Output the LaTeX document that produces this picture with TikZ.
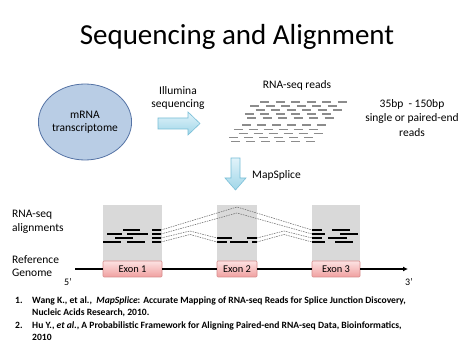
\documentclass[tikz,border=0pt]{standalone}
\usepackage{fontspec}
\setmainfont{Carlito}
\usetikzlibrary{shapes.geometric,arrows.meta}
\definecolor{ellfill}{RGB}{185,205,229}
\definecolor{elldraw}{RGB}{85,115,165}
\definecolor{arrtop}{RGB}{225,243,250}
\definecolor{arrbot}{RGB}{160,214,232}
\definecolor{arrdraw}{RGB}{120,190,215}
\definecolor{exontop}{RGB}{252,226,226}
\definecolor{exonbot}{RGB}{240,160,160}
\definecolor{exondraw}{RGB}{215,140,140}
\definecolor{greybox}{RGB}{217,217,217}
\definecolor{readgrey}{RGB}{140,140,140}
\definecolor{dashgrey}{RGB}{110,110,110}
\begin{document}
\begin{tikzpicture}[x=1pt,y=-1pt,
  txt/.style={inner sep=0pt, font=\fontsize{11.5}{12.5}\selectfont, align=center},
  lefttxt/.style={inner sep=0pt, font=\fontsize{11.5}{13.5}\selectfont, align=left, anchor=west},
  exon/.style={draw=exondraw, line width=0.6pt, top color=exontop, bottom color=exonbot,
     rounded corners=1pt, inner sep=0pt, minimum height=16pt, font=\fontsize{10.4}{12}\selectfont},
  fatarrow/.style={draw=arrdraw, line width=0.6pt, top color=arrtop, bottom color=arrbot},
  rawread/.style={readgrey, line width=1.3pt},
  alnread/.style={black, line width=1.8pt},
  junction/.style={dashgrey, line width=0.55pt, dash pattern=on 1.5pt off 1pt},
  genome/.style={black, line width=2.4pt},
  refs/.style={inner sep=0pt, anchor=base west, font=\fontsize{9.6}{11}\selectfont\bfseries}]
\useasboundingbox (0,0) rectangle (474,355);
\fill[white] (0,0) rectangle (474,355);

% title
\node[inner sep=0pt, font=\fontsize{29}{34}\selectfont] (title) at (237,37) {Sequencing and Alignment};

% mRNA ellipse
\node[ellipse, draw=elldraw, fill=ellfill, line width=0.8pt, minimum width=84pt, minimum height=76pt,
  inner sep=0pt, font=\fontsize{11.5}{12.5}\selectfont, align=center] (mrna) at (85,122) {mRNA\\transcriptome};

% Illumina arrow
\node[txt] (illum) at (178,98) {Illumina\\sequencing};
\path[fatarrow] (158,118) -- (188,118) -- (188,112) -- (200,123.5) -- (188,135) -- (188,129) -- (158,129) -- cycle;

% RNA-seq reads
\node[txt] (readslbl) at (297,85) {RNA-seq reads};
\foreach \i/\o in {0/0,1/-6,2/3,3/-4,4/2}{
  \pgfmathsetmacro{\y}{102+4*\i}
  \pgfmathsetmacro{\x}{260-3.7*\i+\o}
  \foreach \k in {0,...,5}{
    \draw[rawread] ({\x+15.5*\k},\y) -- ({\x+15.5*\k+9},\y);
  }
}
\foreach \i/\o in {0/0,1/-5,2/3,3/-3,4/2}{
  \pgfmathsetmacro{\y}{125+4.2*\i}
  \pgfmathsetmacro{\x}{242-3.2*\i+\o}
  \foreach \k in {0,...,5}{
    \draw[rawread] ({\x+15*\k},\y) -- ({\x+15*\k+9},\y);
  }
}
\node[txt, font=\fontsize{11.5}{14.5}\selectfont] (readinfo) at (412,118) {35bp \ - 150bp\\single or paired-end\\reads};

% MapSplice arrow
\path[fatarrow] (231,158) -- (240,158) -- (240,178) -- (246,178) -- (235.5,190) -- (225,178) -- (231,178) -- cycle;
\node[txt, anchor=west] (mapsplice) at (252,175) {MapSplice};

% left labels
\node[lefttxt] (alnlbl) at (12,222) {RNA-seq\\alignments};
\node[lefttxt] (reflbl) at (12,266) {Reference\\Genome};

% grey columns
\fill[greybox] (103,205) rectangle (162,262);
\fill[greybox] (217,205) rectangle (257,262);
\fill[greybox] (312,205) rectangle (360,262);

% genome
\coordinate (g5) at (75,269);
\coordinate (g3) at (408,269);
\node[exon, minimum width=59pt] (e1) at (132.5,269) {Exon 1};
\node[exon, minimum width=40pt] (e2) at (237,269) {Exon 2};
\node[exon, minimum width=48pt] (e3) at (336,269) {Exon 3};
\draw[genome] (g5) -- (e1.west);
\draw[genome] (e1.east) -- (e2.west);
\draw[genome] (e2.east) -- (e3.west);
\draw[genome, -{Latex[length=5pt,width=5pt]}] (e3.east) -- (g3);
\node[txt, font=\fontsize{10}{12}\selectfont] (five) at (68,282) {5’};
\node[txt, font=\fontsize{10}{12}\selectfont] (three) at (409,282) {3’};

% alignments exon 1
\draw[alnread] (123,230) -- (140,230);
\draw[alnread] (107,234) -- (122,234);
\draw[alnread] (127,234) -- (148,234);
\draw[alnread] (115,238) -- (133,238);
\draw[alnread] (103,242) -- (121,242);
\draw[alnread] (127,242) -- (145,242);
\foreach \y in {230,234,238,242}{\draw[alnread] (152,\y) -- (161,\y);}
% alignments exon 2
\draw[alnread] (217,238) -- (232,238);
\draw[alnread] (247,238) -- (257,238);
\draw[alnread] (217,242) -- (227,242);
\draw[alnread] (230,242) -- (248,242);
\draw[alnread] (252,242) -- (257,242);
% alignments exon 3
\draw[alnread] (312,230) -- (322,230);
\draw[alnread] (332,230) -- (350,230);
\draw[alnread] (312,234) -- (325,234);
\draw[alnread] (340,234) -- (358,234);
\draw[alnread] (312,238) -- (322,238);
\draw[alnread] (328,238) -- (347,238);
\draw[alnread] (312,242) -- (325,242);
\draw[alnread] (335,242) -- (353,242);

% junctions
\draw[junction] (161,230) -- (237,207) -- (312,230);
\draw[junction] (161,234) -- (237,213) -- (312,234);
\draw[junction] (161,238) -- (190,231) -- (217,238);
\draw[junction] (161,242) -- (190,234.5) -- (217,242);
\draw[junction] (257,238) -- (284,231) -- (312,238);
\draw[junction] (257,242) -- (284,234.5) -- (312,242);

% references
\node[refs] (n1) at (15,304) {1.};
\node[refs] (r1) at (32,304) {Wang K., et al., \ \textit{MapSplice}: Accurate Mapping of RNA-seq Reads for Splice Junction Discovery,};
\node[refs] (r1b) at (32,316) {Nucleic Acids Research, 2010.};
\node[refs] (n2) at (15,329) {2.};
\node[refs] (r2) at (32,329) {Hu Y., \textit{et al.}, A Probabilistic Framework for Aligning Paired-end RNA-seq Data, Bioinformatics,};
\node[refs] (r2b) at (32,341) {2010};
\end{tikzpicture}
\end{document}
